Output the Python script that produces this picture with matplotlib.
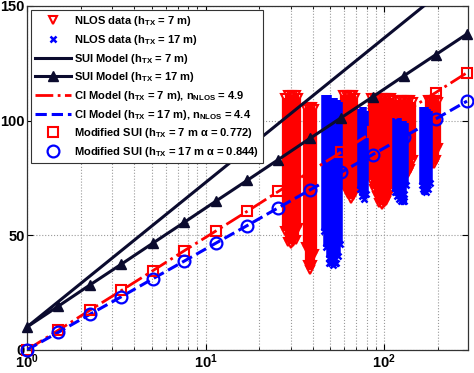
"""Path loss vs distance: NLOS data, SUI, CI and modified SUI models."""

import matplotlib

matplotlib.use("Agg")
import matplotlib.pyplot as plt

# model marker distances (m) and values (dB)
model_d = [1, 1.5, 2.25, 3.38, 5.06, 7.59, 11.4, 17.1, 25.6, 38.4,
           57.7, 86.5, 129.7, 194.6, 291.9]
sui17 = [10, 19.1, 28.3, 37.4, 46.5, 55.6, 64.8, 73.9, 83.0, 92.2,
         101.3, 110.4, 119.6, 128.7, 137.8]
ci7 = [0, 8.6, 17.3, 25.9, 34.5, 43.2, 51.8, 60.4, 69.1, 77.7,
       86.3, 95.0, 103.6, 112.2, 120.9]
ci17 = [0, 7.7, 15.5, 23.2, 31.0, 38.7, 46.5, 54.2, 62.0, 69.7,
        77.5, 85.2, 93.0, 100.7, 108.5]
mod7 = [0, 8.6, 17.3, 25.9, 34.5, 43.2, 51.8, 60.4, 69.1, 77.7,
        86.3, 95.0, 103.6, 112.2, 120.9]
mod17 = [0, 7.7, 15.5, 23.2, 31.0, 38.7, 46.5, 54.2, 62.0, 69.7,
         77.5, 85.2, 93.0, 100.7, 108.5]
sui7_d = [1, 300]
sui7 = [10, 166]

# NLOS measurement columns: distance, lowest and highest path loss
nlos7_d = [28, 29, 30, 31, 32, 33,
           36.5, 37.5, 38.5, 39.5, 40.5,
           59, 61, 63, 65, 67, 69,
           85, 88, 91, 94, 97, 100, 103, 106, 109, 112,
           120, 124, 128, 132, 136, 140, 145,
           176, 181, 186, 191, 196, 201]
nlos7_lo = [52, 47, 46, 47, 48, 53,
            45, 37, 35, 37, 42,
            72, 70, 68, 66, 67, 69,
            74, 70, 67, 64, 63, 64, 65, 67, 70, 75,
            82, 79, 77, 76, 77, 79, 83,
            87, 84, 81, 81, 83, 88]
nlos7_hi = [110, 111, 111, 111, 111, 110,
            105, 106, 106, 106, 105,
            111, 111, 111, 111, 111, 110,
            110, 110, 110, 110, 110, 110, 110, 110, 110, 109,
            109, 109, 109, 109, 109, 109, 108,
            109, 109, 109, 109, 109, 108]
nlos17_d = [46, 47.5, 49, 50.5, 52, 53.5, 55, 57,
            73.5, 75.5, 77.5, 79.5,
            115, 118, 121, 124, 127, 130, 133,
            164, 168, 172, 176, 180]
nlos17_lo = [52, 45, 40, 38, 37, 38, 41, 46,
             70, 67, 66, 68,
             69, 67, 66, 65, 66, 68, 72,
             72, 70, 69, 70, 73]
nlos17_hi = [111, 111, 111, 110, 110, 110, 109, 108,
             105, 106, 106, 104,
             101, 101, 101, 100, 100, 100, 99,
             106, 106, 106, 105, 104]
out17_d = [49, 54, 128, 129, 165, 168]
out17 = [38, 38, 65, 65, 70, 69.5]

xtick_vals = [1, 10, 100]
xtick_labels = ["$10^{0}$", "$10^{1}$", "$10^{2}$"]
ytick_vals = [0, 50, 100, 150]

RED = "#ff0000"
BLUE = "#0000ff"
NAVY = "#0b0b2e"

plt.rcParams["font.family"] = ["Liberation Sans", "DejaVu Sans"]
plt.rcParams["font.weight"] = "bold"
plt.rcParams["mathtext.fontset"] = "custom"
plt.rcParams["mathtext.rm"] = "Liberation Sans:bold"
plt.rcParams["mathtext.it"] = "Liberation Sans:bold"
plt.rcParams["mathtext.bf"] = "Liberation Sans:bold"
plt.rcParams["mathtext.default"] = "rm"

fig = plt.figure(figsize=(4.74, 3.73), dpi=100)
ax = fig.add_axes([0.057, 0.062, 0.930, 0.922])
ax.set_xscale("log")

# measured data columns
ax.vlines(nlos7_d, nlos7_lo, nlos7_hi, color=RED, linewidth=4.5, zorder=2)
ax.plot(nlos7_d, nlos7_lo, "v", color=RED, mfc="none", ms=6, mew=1.5,
        linestyle="none", zorder=2)
ax.plot(nlos7_d, nlos7_hi, "v", color=RED, mfc="none", ms=6, mew=1.5,
        linestyle="none", zorder=2, label=r"NLOS data (h$_{TX}$ = 7 m)")
ax.vlines(nlos17_d, nlos17_lo, nlos17_hi, color=BLUE, linewidth=4, zorder=3)
ax.plot(nlos17_d, nlos17_lo, "x", color=BLUE, ms=5, mew=1.8,
        linestyle="none", zorder=3)
ax.plot(out17_d, out17, "x", color=BLUE, ms=5, mew=1.8,
        linestyle="none", zorder=3, label=r"NLOS data (h$_{TX}$ = 17 m)")

# models
ax.plot(sui7_d, sui7, "-", color=NAVY, linewidth=2.2, zorder=5,
        label=r"SUI Model (h$_{TX}$ = 7 m)")
ax.plot(model_d, sui17, "-^", color=NAVY, linewidth=2.2, ms=7, zorder=5,
        clip_on=False, label=r"SUI Model (h$_{TX}$ = 17 m)")
ax.plot(model_d, ci7, "-.", color=RED, linewidth=2, zorder=4,
        label=r"CI Model (h$_{TX}$ = 7 m), n$_{NLOS}$ = 4.9")
ax.plot(model_d, ci17, "--", color=BLUE, linewidth=2.2, zorder=4,
        label=r"CI Model (h$_{TX}$ = 17 m), n$_{NLOS}$ = 4.4")
ax.plot(model_d, mod7, "s", color=RED, mfc="none", ms=7, mew=1.5,
        linestyle="none", zorder=6, clip_on=False,
        label="Modified SUI (h$_{TX}$ = 7 m α = 0.772)")
ax.plot(model_d, mod17, "o", color=BLUE, mfc="none", ms=8.5, mew=1.6,
        linestyle="none", zorder=6, clip_on=False,
        label="Modified SUI (h$_{TX}$ = 17 m α = 0.844)")

ax.set_xlim(1, 295)
ax.set_ylim(0, 150)
ax.set_xticks(xtick_vals)
ax.set_xticklabels(xtick_labels)
ax.set_yticks(ytick_vals)
ax.tick_params(which="both", direction="in", top=True, right=True,
               labelsize=10.5, pad=1.5)
ax.tick_params(which="major", length=4)
ax.tick_params(which="minor", length=2)
ax.grid(True, which="major", linestyle=":", color="#9a9a9a", linewidth=0.8)
ax.grid(True, which="minor", axis="x", linestyle=":", color="#9a9a9a",
        linewidth=0.8)
for spine in ax.spines.values():
    spine.set_linewidth(0.9)
    spine.set_color("#333333")

leg = ax.legend(loc="upper left", bbox_to_anchor=(0.0, 1.0), fontsize=8,
                numpoints=1, handlelength=3.2, handletextpad=0.3,
                labelspacing=0.42, borderaxespad=0.4, borderpad=0.35,
                fancybox=False, framealpha=1, edgecolor="#333333")
leg.get_frame().set_linewidth(0.8)
leg.set_zorder(10)

fig.savefig("out.png", dpi=100)
